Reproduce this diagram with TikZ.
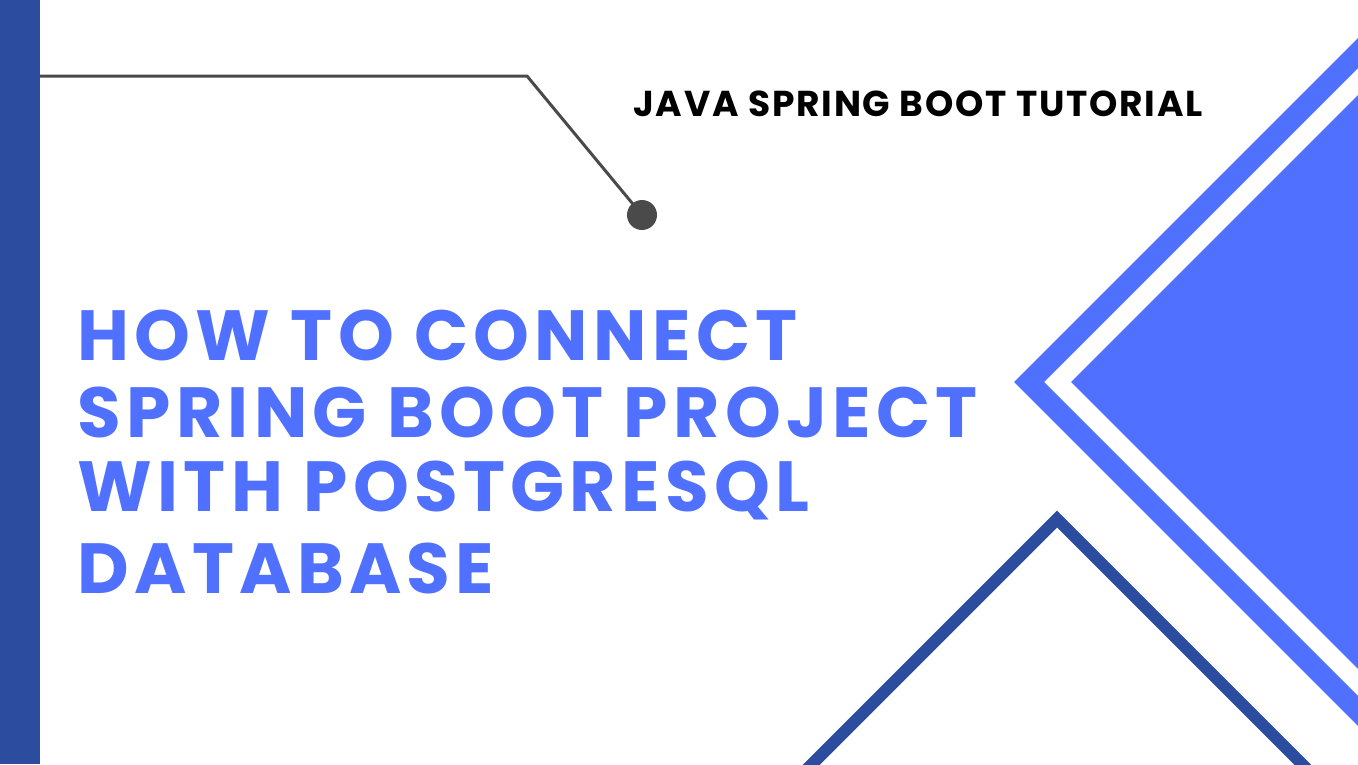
\documentclass[tikz,border=0pt]{standalone}
\usepackage{fontspec}
\setmainfont{Poppins}
\newfontfamily\spacedfont[LetterSpace=5]{Poppins}
\newfontfamily\widefont[LetterSpace=7.5]{Poppins}
\definecolor{navy}{HTML}{2B4C9F}
\definecolor{bright}{HTML}{5070FF}
\definecolor{charcoal}{HTML}{4A4A4A}
\begin{document}
\begin{tikzpicture}[x=1pt,y=-1pt]
\useasboundingbox (0,0) rectangle (1358,764);
\fill[white] (0,0) rectangle (1358,764);
% left bar
\fill[navy] (0,0) rectangle (40,764);
% pointer line
\draw[charcoal,line width=3pt] (40,76) -- (527,76) -- (637,209);
\fill[charcoal] (642,215) circle (15);
\node[anchor=center,font=\spacedfont\bfseries\fontsize{36}{36}\selectfont] (head) at (918,104) {JAVA SPRING BOOT TUTORIAL};
% main title
\begin{scope}[bright,font=\widefont\bfseries\fontsize{71}{71}\selectfont]
\node[anchor=west] (l1) at (74,335) {HOW TO CONNECT};
\node[anchor=west] (l2) at (74,412) {SPRING BOOT PROJECT};
\node[anchor=west] (l3) at (74,490) {WITH POSTGRESQL};
\node[anchor=west] (l4) at (74,568) {DATABASE};
\end{scope}
% right chevrons
\fill[bright,even odd rule] (1358,38) -- (1014,382) -- (1358,726) -- cycle
  (1358,68) -- (1044,382) -- (1358,696) -- cycle;
\fill[bright] (1358,95) -- (1071,382) -- (1358,669) -- cycle;
\draw[navy,line width=12pt,line join=miter] (804,772) -- (1057,519) -- (1310,772);
\end{tikzpicture}
\end{document}
